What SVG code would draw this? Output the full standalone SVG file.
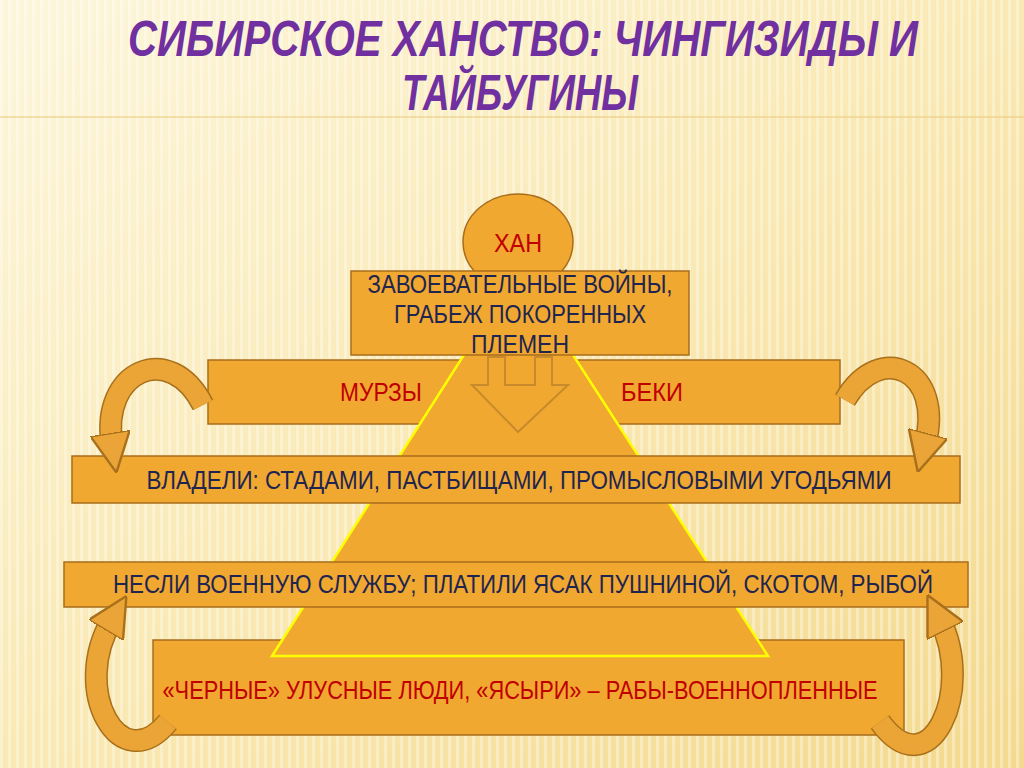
<svg xmlns="http://www.w3.org/2000/svg" width="1024" height="768" viewBox="0 0 1024 768">
<defs>
<linearGradient id="bg" x1="0" y1="0" x2="1" y2="1">
<stop offset="0" stop-color="#fdf6dc"/><stop offset="0.5" stop-color="#f9e9b4"/><stop offset="1" stop-color="#f4d98e"/>
</linearGradient>
<pattern id="str" width="8" height="8" patternUnits="userSpaceOnUse"><rect width="3" height="8" fill="#ffffff" opacity="0.35"/></pattern>
<marker id="ah" viewBox="0 0 10 10" refX="3" refY="5" markerWidth="2" markerHeight="2" orient="auto"><path d="M0,0 L10,5 L0,10 Z" fill="#eba437" stroke="#a8701c" stroke-width="0.6"/></marker>
</defs>
<style>
.box{fill:#f0a830;stroke:#a86c1c;stroke-width:1.5}
.t{font-family:"Liberation Sans",Arial,sans-serif;font-size:25px;fill:#1f2550;text-anchor:middle}
.r{fill:#c00000}
.cv{fill:none;stroke:#eaa536;stroke-width:20}
.cvo{fill:none;stroke:#a8701c;stroke-width:23}
.ttl{font-family:"Liberation Sans",Arial,sans-serif;font-size:50px;font-weight:bold;font-style:italic;fill:#7030a0;text-anchor:middle}
</style>
<rect width="1024" height="768" fill="url(#bg)"/>
<rect width="1024" height="768" fill="url(#str)"/>
<line x1="0" y1="117" x2="1024" y2="117" stroke="#e8c87a" stroke-width="1"/>
<g id="title">
<text class="ttl" x="523" y="56" textLength="790" lengthAdjust="spacingAndGlyphs">СИБИРСКОЕ  ХАНСТВО: ЧИНГИЗИДЫ  И</text>
<text class="ttl" x="520" y="110" textLength="236" lengthAdjust="spacingAndGlyphs">ТАЙБУГИНЫ</text>
</g>
<g id="murzy"><rect class="box" x="208" y="360" width="632" height="64"/>
<text class="t r" x="381" y="401" textLength="82" lengthAdjust="spacingAndGlyphs">МУРЗЫ</text>
<text class="t r" x="652" y="401" textLength="62" lengthAdjust="spacingAndGlyphs">БЕКИ</text></g>
<g id="bottom"><rect class="box" x="153" y="640" width="751" height="95"/>
<text class="t r" x="520" y="699" textLength="715" lengthAdjust="spacingAndGlyphs">«ЧЕРНЫЕ» УЛУСНЫЕ ЛЮДИ, «ЯСЫРИ» – РАБЫ-ВОЕННОПЛЕННЫЕ</text></g>
<g id="pyramid"><polygon points="518,270 272,656 768,656" fill="#f0a830" stroke="#ffff00" stroke-width="2.5"/></g>
<g id="khan"><ellipse cx="518" cy="242" rx="55" ry="48" class="box"/>
<text class="t r" x="518" y="252" textLength="48" lengthAdjust="spacingAndGlyphs">ХАН</text></g>
<g id="wars"><rect class="box" x="351" y="271" width="338" height="84"/>
<text class="t" x="520" y="293" textLength="305" lengthAdjust="spacingAndGlyphs">ЗАВОЕВАТЕЛЬНЫЕ ВОЙНЫ,</text>
<text class="t" x="520" y="323" textLength="252" lengthAdjust="spacingAndGlyphs">ГРАБЕЖ ПОКОРЕННЫХ</text>
<text class="t" x="520" y="353" textLength="98" lengthAdjust="spacingAndGlyphs">ПЛЕМЕН</text></g>
<g id="vladeli"><rect class="box" x="72" y="456" width="888" height="47"/>
<text class="t" x="519" y="489" textLength="745" lengthAdjust="spacingAndGlyphs">ВЛАДЕЛИ: СТАДАМИ, ПАСТБИЩАМИ, ПРОМЫСЛОВЫМИ УГОДЬЯМИ</text></g>
<g id="nesli"><rect class="box" x="64" y="562" width="904" height="45"/>
<text class="t" x="523" y="593" textLength="820" lengthAdjust="spacingAndGlyphs">НЕСЛИ ВОЕННУЮ СЛУЖБУ; ПЛАТИЛИ ЯСАК ПУШНИНОЙ, СКОТОМ, РЫБОЙ</text></g>
<g id="connectors">
<path d="M488,357 L505,357 L505,385 L535,385 L535,357 L552,357 L552,385 L568,385 L518,432 L472,385 L488,385 Z" fill="none" stroke="#c88a2a" stroke-width="2"/>
<path class="cvo" d="M203,405 C170,340 100,370 112,445"/>
<path class="cv" d="M203,405 C170,340 100,370 112,445" marker-end="url(#ah)"/>
<path class="cvo" d="M845,400 C880,340 945,370 925,445"/>
<path class="cv" d="M845,400 C880,340 945,370 925,445" marker-end="url(#ah)"/>
<path class="cvo" d="M168,722 C120,780 70,690 112,620"/>
<path class="cv" d="M168,722 C120,780 70,690 112,620" marker-end="url(#ah)"/>
<path class="cvo" d="M880,722 C930,790 975,690 940,620"/>
<path class="cv" d="M880,722 C930,790 975,690 940,620" marker-end="url(#ah)"/>
</g>
</svg>
